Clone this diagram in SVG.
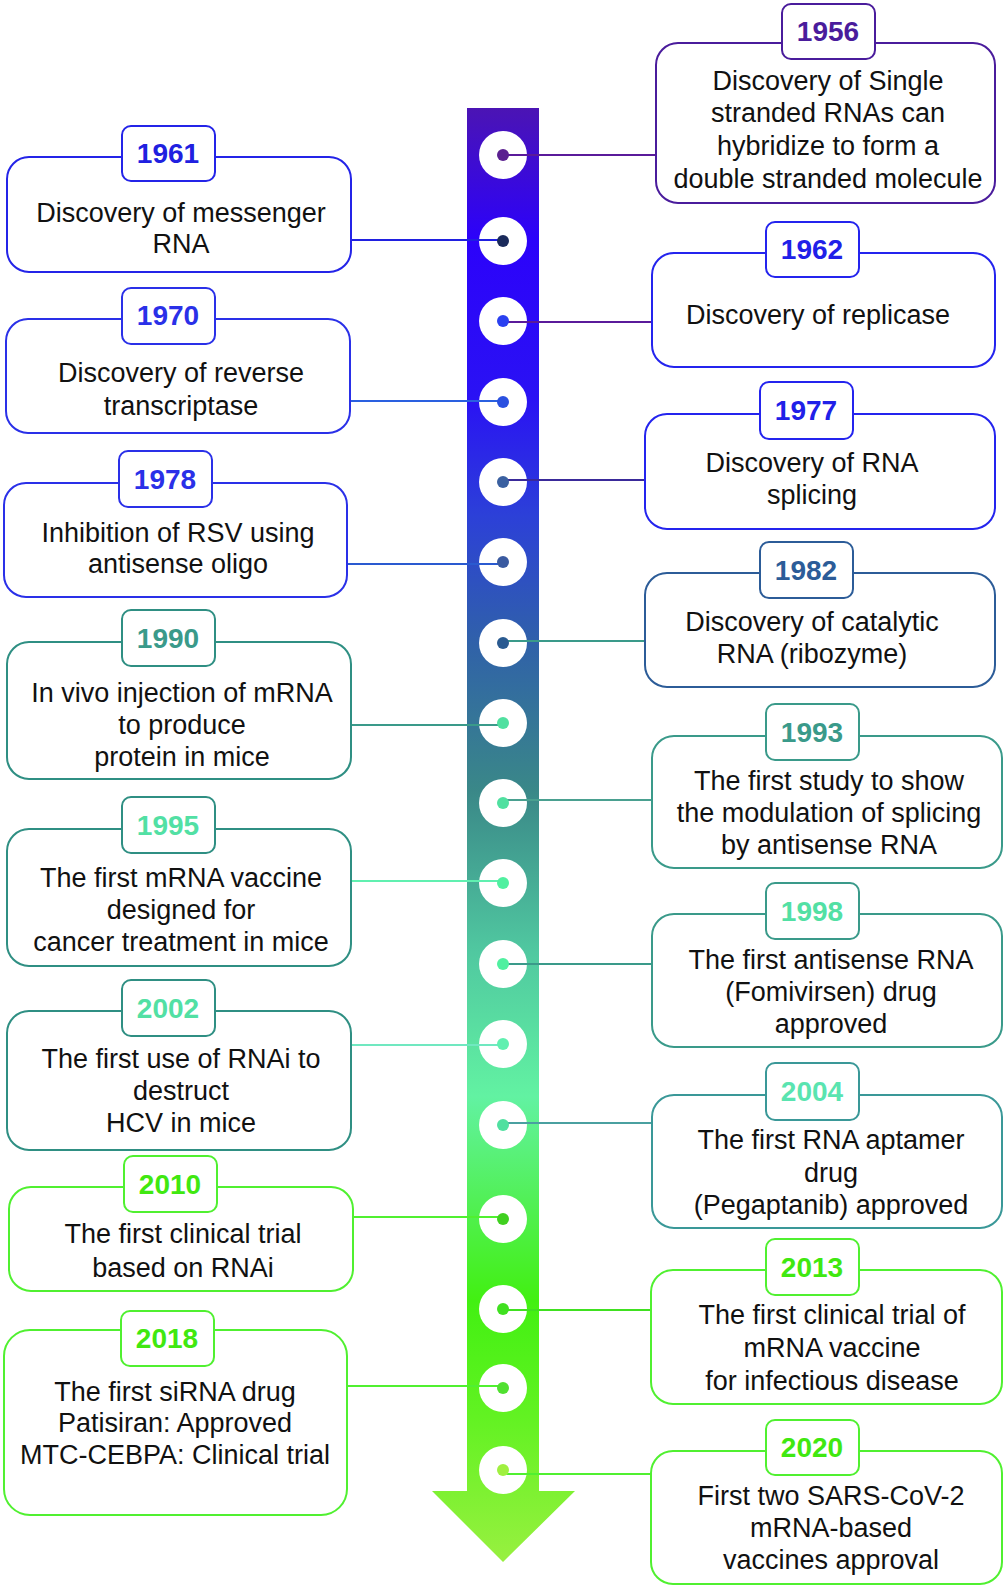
<svg xmlns="http://www.w3.org/2000/svg" width="1005" height="1588" viewBox="0 0 1005 1588">
<defs>
<linearGradient id="bar" gradientUnits="userSpaceOnUse" x1="0" y1="108" x2="0" y2="1562">
<stop offset="0" stop-color="#4b14b4"/>
<stop offset="0.09" stop-color="#2c02fa"/>
<stop offset="0.2" stop-color="#2a12f4"/>
<stop offset="0.28" stop-color="#2c40d8"/>
<stop offset="0.37" stop-color="#3062a8"/>
<stop offset="0.47" stop-color="#3a8888"/>
<stop offset="0.58" stop-color="#50c8a0"/>
<stop offset="0.68" stop-color="#62f2a2"/>
<stop offset="0.75" stop-color="#52f058"/>
<stop offset="0.82" stop-color="#42f012"/>
<stop offset="0.9" stop-color="#62f222"/>
<stop offset="1" stop-color="#98f040"/>
</linearGradient>
<style>
.box{fill:#fff;stroke-width:2}
.yb{fill:#fff;stroke-width:2}
.t{font-family:"Liberation Sans",Arial,sans-serif;font-size:27px;fill:#111;text-anchor:middle}
.y{font-family:"Liberation Sans",Arial,sans-serif;font-size:28px;font-weight:bold;text-anchor:middle}
.ring{fill:#fff}
.c{stroke-width:2;fill:none}
</style>
</defs>
<rect width="1005" height="1588" fill="#fff"/>
<g id="timeline">
<path d="M467,108 H539 V1491 H575 L503,1562 L432,1491 H467 Z" fill="url(#bar)"/>
<g class="ring">
<circle cx="503" cy="155" r="24"/>
<circle cx="503" cy="241" r="24"/>
<circle cx="503" cy="321" r="24"/>
<circle cx="503" cy="402" r="24"/>
<circle cx="503" cy="482" r="24"/>
<circle cx="503" cy="562" r="24"/>
<circle cx="503" cy="643" r="24"/>
<circle cx="503" cy="723" r="24"/>
<circle cx="503" cy="803" r="24"/>
<circle cx="503" cy="883" r="24"/>
<circle cx="503" cy="964" r="24"/>
<circle cx="503" cy="1044" r="24"/>
<circle cx="503" cy="1125" r="24"/>
<circle cx="503" cy="1219" r="24"/>
<circle cx="503" cy="1309" r="24"/>
<circle cx="503" cy="1388" r="24"/>
<circle cx="503" cy="1470" r="24"/>
</g>
</g>
<g id="connectors" class="c">
<path d="M503,155 H656" stroke="#5a1a9a"/>
<path d="M503,240 H351" stroke="#2020e0"/>
<path d="M503,322 H652" stroke="#5a1a9a"/>
<path d="M503,401 H350" stroke="#2a60e0"/>
<path d="M503,480 H645" stroke="#3a2a9a"/>
<path d="M503,564 H347" stroke="#2a5ad0"/>
<path d="M503,641 H645" stroke="#3a9a8a"/>
<path d="M503,725 H351" stroke="#3a9a8a"/>
<path d="M503,800 H652" stroke="#4aa090"/>
<path d="M503,881 H351" stroke="#60f0b0"/>
<path d="M503,964 H652" stroke="#3a9a8a"/>
<path d="M503,1045 H351" stroke="#70e8c0"/>
<path d="M503,1123 H652" stroke="#4aa0a0"/>
<path d="M503,1217 H353" stroke="#50f030"/>
<path d="M503,1310 H651" stroke="#40e020"/>
<path d="M503,1386 H347" stroke="#50f030"/>
<path d="M503,1474 H651" stroke="#50f030"/>
</g>
<g id="dots">
<circle cx="503" cy="155" r="6" fill="#5a2090"/>
<circle cx="503" cy="241" r="6" fill="#1a2a5a"/>
<circle cx="503" cy="321" r="6" fill="#2a40f0"/>
<circle cx="503" cy="402" r="6" fill="#2a50e0"/>
<circle cx="503" cy="482" r="6" fill="#3a60a0"/>
<circle cx="503" cy="562" r="6" fill="#3a5aa0"/>
<circle cx="503" cy="643" r="6" fill="#2a5a90"/>
<circle cx="503" cy="723" r="6" fill="#50e0a0"/>
<circle cx="503" cy="803" r="6" fill="#50e0a0"/>
<circle cx="503" cy="883" r="6" fill="#50f0a0"/>
<circle cx="503" cy="964" r="6" fill="#50f0a0"/>
<circle cx="503" cy="1044" r="6" fill="#60f0b0"/>
<circle cx="503" cy="1125" r="6" fill="#50e0a0"/>
<circle cx="503" cy="1219" r="6" fill="#40d020"/>
<circle cx="503" cy="1309" r="6" fill="#40e020"/>
<circle cx="503" cy="1388" r="6" fill="#50e030"/>
<circle cx="503" cy="1470" r="6" fill="#a0f040"/>
</g>

<g id="n1956">
<rect class="box" x="656" y="43" width="339" height="160" rx="22" stroke="#4a1c9c"/>
<rect class="yb" x="782" y="4" width="93" height="55" rx="9" stroke="#4a1c9c"/>
<text class="y" x="828" y="41" fill="#4a1c9c">1956</text>
<text class="t" x="828" y="90">Discovery of Single</text>
<text class="t" x="828" y="122">stranded RNAs can</text>
<text class="t" x="828" y="155">hybridize to form a</text>
<text class="t" x="828" y="188">double stranded molecule</text>
</g>
<g id="n1961">
<rect class="box" x="7" y="157" width="344" height="115" rx="22" stroke="#2424e8"/>
<rect class="yb" x="122" y="126" width="93" height="55" rx="9" stroke="#2424e8"/>
<text class="y" x="168" y="163" fill="#2020e0">1961</text>
<text class="t" x="181" y="222">Discovery of messenger</text>
<text class="t" x="181" y="253">RNA</text>
</g>
<g id="n1962">
<rect class="box" x="652" y="253" width="343" height="114" rx="22" stroke="#2424ee"/>
<rect class="yb" x="766" y="222" width="93" height="55" rx="9" stroke="#2424ee"/>
<text class="y" x="812" y="259" fill="#2020e8">1962</text>
<text class="t" x="818" y="324">Discovery of replicase</text>
</g>
<g id="n1970">
<rect class="box" x="6" y="319" width="344" height="114" rx="22" stroke="#2a30e8"/>
<rect class="yb" x="122" y="288" width="93" height="56" rx="9" stroke="#2a30e8"/>
<text class="y" x="168" y="325" fill="#2a30e8">1970</text>
<text class="t" x="181" y="382">Discovery of reverse</text>
<text class="t" x="181" y="415">transcriptase</text>
</g>
<g id="n1977">
<rect class="box" x="645" y="414" width="350" height="115" rx="22" stroke="#2424ee"/>
<rect class="yb" x="760" y="382" width="93" height="57" rx="9" stroke="#2424ee"/>
<text class="y" x="806" y="420" fill="#2020e8">1977</text>
<text class="t" x="812" y="472">Discovery of RNA</text>
<text class="t" x="812" y="504">splicing</text>
</g>
<g id="n1978">
<rect class="box" x="4" y="483" width="343" height="114" rx="22" stroke="#2a30e8"/>
<rect class="yb" x="119" y="451" width="93" height="56" rx="9" stroke="#2a30e8"/>
<text class="y" x="165" y="489" fill="#2a30e8">1978</text>
<text class="t" x="178" y="542">Inhibition of RSV using</text>
<text class="t" x="178" y="573">antisense oligo</text>
</g>
<g id="n1982">
<rect class="box" x="645" y="573" width="350" height="114" rx="22" stroke="#2c5c98"/>
<rect class="yb" x="760" y="542" width="93" height="56" rx="9" stroke="#2c5c98"/>
<text class="y" x="806" y="580" fill="#2c5c98">1982</text>
<text class="t" x="812" y="631">Discovery of catalytic</text>
<text class="t" x="812" y="663">RNA (ribozyme)</text>
</g>
<g id="n1990">
<rect class="box" x="7" y="642" width="344" height="137" rx="22" stroke="#2f8f83"/>
<rect class="yb" x="122" y="610" width="93" height="56" rx="9" stroke="#2f8f83"/>
<text class="y" x="168" y="648" fill="#3a9a8a">1990</text>
<text class="t" x="182" y="702">In vivo injection of mRNA</text>
<text class="t" x="182" y="734">to produce</text>
<text class="t" x="182" y="766">protein in mice</text>
</g>
<g id="n1993">
<rect class="box" x="652" y="736" width="350" height="132" rx="22" stroke="#3a9a8a"/>
<rect class="yb" x="766" y="704" width="93" height="56" rx="9" stroke="#3a9a8a"/>
<text class="y" x="812" y="742" fill="#3a9a8a">1993</text>
<text class="t" x="829" y="790">The first study to show</text>
<text class="t" x="829" y="822">the modulation of splicing</text>
<text class="t" x="829" y="854">by antisense RNA</text>
</g>
<g id="n1995">
<rect class="box" x="7" y="829" width="344" height="137" rx="22" stroke="#2f8f83"/>
<rect class="yb" x="122" y="797" width="93" height="56" rx="9" stroke="#2f8f83"/>
<text class="y" x="168" y="835" fill="#52e0a4">1995</text>
<text class="t" x="181" y="887">The first mRNA vaccine</text>
<text class="t" x="181" y="919">designed for</text>
<text class="t" x="181" y="951">cancer treatment in mice</text>
</g>
<g id="n1998">
<rect class="box" x="652" y="914" width="350" height="133" rx="22" stroke="#3a9a8a"/>
<rect class="yb" x="766" y="883" width="93" height="56" rx="9" stroke="#3a9a8a"/>
<text class="y" x="812" y="921" fill="#52e0a4">1998</text>
<text class="t" x="831" y="969">The first antisense RNA</text>
<text class="t" x="831" y="1001">(Fomivirsen) drug</text>
<text class="t" x="831" y="1033">approved</text>
</g>
<g id="n2002">
<rect class="box" x="7" y="1011" width="344" height="139" rx="22" stroke="#2f8f83"/>
<rect class="yb" x="122" y="980" width="93" height="56" rx="9" stroke="#2f8f83"/>
<text class="y" x="168" y="1018" fill="#52e0a4">2002</text>
<text class="t" x="181" y="1068">The first use of RNAi to</text>
<text class="t" x="181" y="1100">destruct</text>
<text class="t" x="181" y="1132">HCV in mice</text>
</g>
<g id="n2004">
<rect class="box" x="652" y="1095" width="350" height="133" rx="22" stroke="#3a9898"/>
<rect class="yb" x="766" y="1063" width="93" height="57" rx="9" stroke="#3a9898"/>
<text class="y" x="812" y="1101" fill="#5ae4b0">2004</text>
<text class="t" x="831" y="1149">The first RNA aptamer</text>
<text class="t" x="831" y="1182">drug</text>
<text class="t" x="831" y="1214">(Pegaptanib) approved</text>
</g>
<g id="n2010">
<rect class="box" x="9" y="1187" width="344" height="104" rx="22" stroke="#50f030"/>
<rect class="yb" x="124" y="1156" width="93" height="56" rx="9" stroke="#50f030"/>
<text class="y" x="170" y="1194" fill="#40e810">2010</text>
<text class="t" x="183" y="1243">The first clinical trial</text>
<text class="t" x="183" y="1277">based on RNAi</text>
</g>
<g id="n2013">
<rect class="box" x="651" y="1270" width="351" height="134" rx="22" stroke="#50f030"/>
<rect class="yb" x="766" y="1239" width="93" height="56" rx="9" stroke="#50f030"/>
<text class="y" x="812" y="1277" fill="#40e810">2013</text>
<text class="t" x="832" y="1324">The first clinical trial of</text>
<text class="t" x="832" y="1357">mRNA vaccine</text>
<text class="t" x="832" y="1390">for infectious disease</text>
</g>
<g id="n2018">
<rect class="box" x="4" y="1330" width="343" height="185" rx="26" stroke="#50f030"/>
<rect class="yb" x="121" y="1311" width="93" height="55" rx="9" stroke="#50f030"/>
<text class="y" x="167" y="1348" fill="#40e810">2018</text>
<text class="t" x="175" y="1401">The first siRNA drug</text>
<text class="t" x="175" y="1432">Patisiran: Approved</text>
<text class="t" x="175" y="1464">MTC-CEBPA: Clinical trial</text>
</g>
<g id="n2020">
<rect class="box" x="651" y="1451" width="351" height="133" rx="22" stroke="#50f030"/>
<rect class="yb" x="766" y="1420" width="93" height="55" rx="9" stroke="#50f030"/>
<text class="y" x="812" y="1457" fill="#40e810">2020</text>
<text class="t" x="831" y="1505">First two SARS-CoV-2</text>
<text class="t" x="831" y="1537">mRNA-based</text>
<text class="t" x="831" y="1569">vaccines approval</text>
</g>
</svg>
